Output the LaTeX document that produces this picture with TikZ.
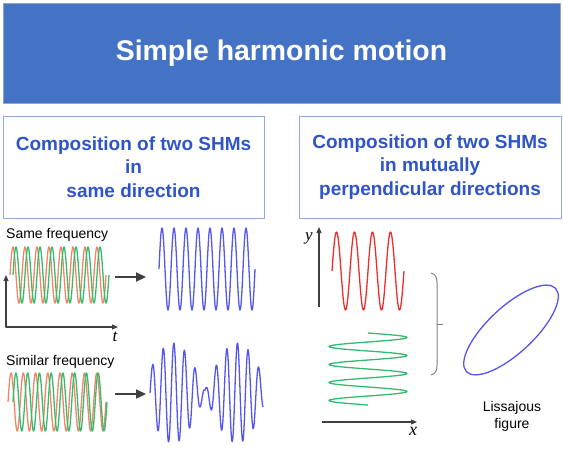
\documentclass[tikz,border=0pt]{standalone}
\usepackage{fontspec}
\setmainfont{Liberation Sans}
\newfontfamily\varfont{Liberation Serif}
\usetikzlibrary{arrows.meta,positioning}
\definecolor{bannerblue}{RGB}{68,114,196}
\definecolor{bannerline}{RGB}{150,165,190}
\definecolor{boxline}{RGB}{143,170,220}
\definecolor{headblue}{RGB}{46,84,199}
\definecolor{coral}{RGB}{244,132,100}
\definecolor{shmgreen}{RGB}{51,187,110}
\definecolor{shmblue}{RGB}{85,85,240}
\definecolor{shmred}{RGB}{240,45,45}
\definecolor{arrowgray}{RGB}{64,64,64}
\tikzset{
  wave/.style={line width=1.3pt},
  axis/.style={draw=arrowgray, line width=1.2pt, -{Triangle[length=6pt,width=5pt]}},
  varlabel/.style={inner sep=0pt, font=\varfont\itshape\fontsize{17}{20}\selectfont},
  headbox/.style={draw=boxline, line width=1pt, text=headblue, minimum height=102pt,
    font=\bfseries\fontsize{19}{23.5}\selectfont}
}
\begin{document}
\begin{tikzpicture}[x=1pt, y=-1pt, node distance=2pt, line join=round,
  declare function={benv(\t)=(\t<205)*abs(cos(2.8125*(\t-173)))+(\t>=205)*abs(cos(2.8125*(\t-237)));}]
  \useasboundingbox (0,0) rectangle (563,448);
  \begin{scope}[every node/.style={draw, align=center, inner sep=0pt}]
    \node (T)[fill=bannerblue, draw=bannerline, text=white, minimum width=557pt, minimum height=100pt,
      font=\bfseries\fontsize{28.4}{34}\selectfont] at (281.5,53) {Simple harmonic motion};
    \node (L)[headbox, minimum width=261pt] at (133.5,167) {Composition of two SHMs\\in\\same direction};
    \node (R)[headbox, minimum width=262pt] at (430,167) {Composition of two SHMs\\in mutually\\perpendicular directions};
  \end{scope}
  \begin{scope}[every node/.style={inner sep=0pt, font=\fontsize{14}{17}\selectfont}]
    \node (S)[anchor=west] at (6,235) {Same frequency};
    \node (SI)[anchor=west] at (6,362) {Similar frequency};
    \node (LF)[align=center] at (512,416.5) {Lissajous\\figure};
  \end{scope}
  \node (tl)[varlabel] at (115,337) {t};
  \node (yl)[varlabel] at (309,238) {y};
  \node (xl)[varlabel, font=\varfont\itshape\fontsize{18}{20}\selectfont] at (413,431) {x};

  \draw[wave, coral] plot[domain=10:106, samples=300] (\x, {275-28*sin(30*(\x-10))});
  \draw[wave, shmgreen] plot[domain=13:109, samples=300] (\x, {275-28*sin(30*(\x-13))});
  \draw[wave, coral] plot[domain=8:106, samples=300] (\x, {402-29*sin(29.388*(\x-8))});
  \draw[wave, shmgreen] plot[domain=13:107, samples=300] (\x, {402-29*sin(30.638*(\x-13))});
  \draw[wave, shmblue] plot[domain=159:255, samples=300] (\x, {269-41*sin(30*(\x-159))});
  \draw[wave, shmblue] plot[domain=150:263, samples=450] (\x, {393-(3+47*benv(\x))*sin(33.96*(\x-150))});
  \draw[wave, shmred] plot[domain=332:404, samples=200] (\x, {271-39*sin(20*(\x-332))});
  \draw[wave, shmgreen] plot[domain=333:405, samples=200] ({368+39*sin(20*(\x-333))}, \x);

  \coordinate (ellc) at (511,330);
  \draw[wave, shmblue, rotate around={43:(ellc)}] (ellc) ellipse [x radius=61pt, y radius=23pt];

  \draw[gray, line width=1pt] (431,273) .. controls (435,274) and (437,277) .. (437,282) -- (437,366)
    .. controls (437,371) and (435,374) .. (431,375);
  \draw[gray, line width=1pt] (437,324) -- (443,324);

  \coordinate (t1) at (6,275);
  \coordinate (t2) at (118,327);
  \draw[axis, {Triangle[length=6pt,width=5pt]}-{Triangle[length=6pt,width=5pt]}] (t1) |- (t2);
  \coordinate (yb) at (319,307);
  \coordinate (yt) at (319,227);
  \coordinate (xb) at (322,422);
  \coordinate (xt) at (417,422);
  \draw[axis] (yb) -- (yt);
  \draw[axis] (xb) -- (xt);

  \coordinate (s1) at (115,277);
  \coordinate (e1) at (146,277);
  \coordinate (s2) at (115,394);
  \coordinate (e2) at (146,394);
  \begin{scope}[every edge/.style={draw=arrowgray, line width=2.2pt, -{Triangle[length=10pt,width=9pt]}}]
    \path (s1) edge (e1);
    \path (s2) edge (e2);
  \end{scope}
\end{tikzpicture}
\end{document}
